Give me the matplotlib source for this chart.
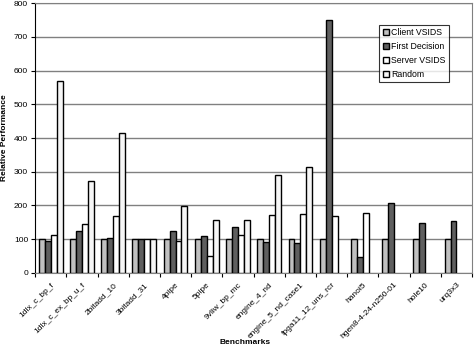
import numpy as np
import matplotlib
matplotlib.use("Agg")
import matplotlib.pyplot as plt

plt.rcParams['font.family'] = ['Liberation Sans', 'DejaVu Sans']

benchmarks = ["1dlx_c_bp_f", "1dlx_c_ex_bp_u_f", "2bitadd_10", "3bitadd_31",
              "4pipe", "5pipe", "9vliw_bp_mc", "engine_4_nd",
              "engine_5_nd_case1", "fpga11_12_uns_rcr", "hanoi5",
              "hgen8-4-24-n250-01", "hole10", "urq3x3"]
nan = np.nan
client_vsids = [100, 100, 100, 100, 100, 100, 100, 100, 100, 100, 100, 100, 100, 100]
first_decision = [95, 123, 105, 100, 123, 110, 135, 92, 90, 750, 47, 208, 148, 153]
server_vsids = [112, 145, 170, 100, 95, 50, 113, 173, 175, 168, 178, nan, nan, nan]
random_dec = [569, 274, 416, 100, 199, 156, 157, 290, 313, nan, nan, nan, nan, nan]

series = [("Client VSIDS", client_vsids, "#c0c0c0"),
          ("First Decision", first_decision, "#5f5f5f"),
          ("Server VSIDS", server_vsids, "#ffffff"),
          ("Random", random_dec, "#f6f6f6")]

fig = plt.figure(figsize=(4.74, 3.49), dpi=100)
ax = fig.add_axes([0.074, 0.218, 0.922, 0.773])

x = np.arange(len(benchmarks))
w = 0.19
for k, (name, vals, col) in enumerate(series):
    vals = np.array(vals, dtype=float)
    m = ~np.isnan(vals)
    ax.bar(x[m] + (k - 1.5) * w, vals[m], width=w, color=col,
           edgecolor="black", linewidth=1.0, label=name, zorder=3)

ax.set_xlim(-0.5, len(benchmarks) - 0.5)
ax.set_ylim(0, 800)
ax.set_yticks(np.arange(0, 801, 100))
ax.yaxis.grid(True, color="#808080", linewidth=1.0, zorder=0)
ax.tick_params(axis="y", labelsize=6, length=3, width=0.8, pad=2)

ax.set_xticks(x)
ax.set_xticklabels(benchmarks, rotation=45, ha="right", rotation_mode="anchor", fontsize=6)
ax.set_xticks(np.arange(-0.5, len(benchmarks)), minor=True)
ax.tick_params(axis="x", which="major", length=0, pad=6)
ax.tick_params(axis="x", which="minor", length=3, width=0.8)

for s in ["top", "right"]:
    ax.spines[s].set_color("#808080")
ax.spines["left"].set_color("black")
ax.spines["bottom"].set_color("#808080")

ax.set_ylabel("Relative Performance", fontsize=6, fontweight="bold")
ax.yaxis.set_label_coords(-0.062, 0.5)
ax.set_xlabel("Benchmarks", fontsize=6, fontweight="bold", labelpad=0)
ax.xaxis.set_label_coords(0.48, -0.245)

leg = ax.legend(loc="upper left", bbox_to_anchor=(0.787, 0.92), fontsize=6.3,
                frameon=True, fancybox=False, edgecolor="black",
                handlelength=0.7, handleheight=0.7, handletextpad=0.3,
                borderpad=0.4, labelspacing=0.55, borderaxespad=0)
leg.get_frame().set_linewidth(0.8)

fig.savefig("out.png", dpi=100)
